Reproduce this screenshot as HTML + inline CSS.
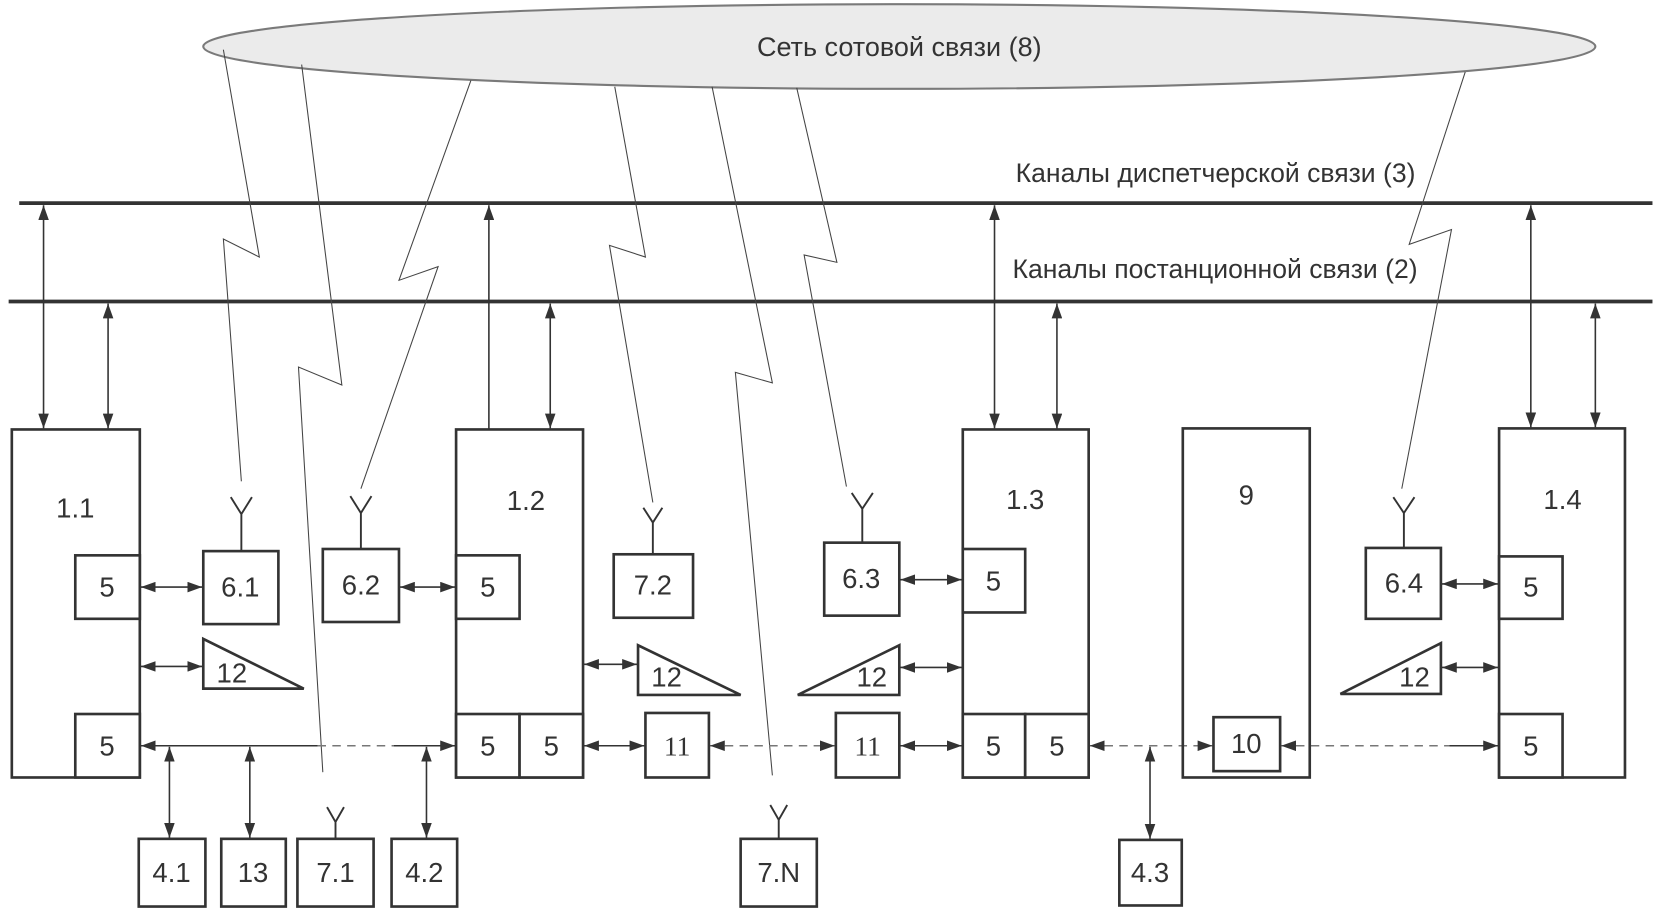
<!DOCTYPE html>
<html><head><meta charset="utf-8"><style>
html,body{margin:0;padding:0;background:#fff;}
svg{display:block;}
text{font-family:"Liberation Sans","DejaVu Sans",sans-serif;fill:#333;}
</style></head><body>
<svg width="1659" height="915" viewBox="0 0 1568 865" xmlns="http://www.w3.org/2000/svg">
<defs>
<marker id="a" viewBox="0 0 14 10" refX="14" refY="5" markerWidth="14" markerHeight="10" markerUnits="userSpaceOnUse" orient="auto-start-reverse"><path d="M0,0 L14,5 L0,10 z" fill="#333"/></marker>
</defs>
<rect width="1568" height="865" fill="#fff"/>
<ellipse cx="850" cy="44" rx="658" ry="40" fill="#ebebeb" stroke="#7a7a7a" stroke-width="2"/>
<text x="850" y="53" font-size="25.5" text-anchor="middle" textLength="269" lengthAdjust="spacingAndGlyphs">Сеть сотовой связи (8)</text>

<line x1="18" y1="192" x2="1562" y2="192" stroke="#333" stroke-width="3.5"/>
<line x1="8" y1="285" x2="1562" y2="285" stroke="#333" stroke-width="3.5"/>
<text x="960" y="172" font-size="25" textLength="378" lengthAdjust="spacingAndGlyphs">Каналы диспетчерской связи (3)</text>
<text x="957" y="263" font-size="25" textLength="383" lengthAdjust="spacingAndGlyphs">Каналы постанционной связи (2)</text>

<g fill="none" stroke="#444" stroke-width="1">
<polyline points="211,47 245,243 211,226 228,455"/>
<polyline points="285,61 323,364 282,347 305,730"/>
<polyline points="445,76 377,265 414,252 341,462"/>
<polyline points="581,82 610,243 576,232 617,475"/>
<polyline points="673,82 730,362 695,352 730,733"/>
<polyline points="753,83 791,248 760,241 800,460"/>
<polyline points="1385,68 1332,231 1372,217 1325,462"/>
</g>

<g fill="none" stroke="#333" stroke-width="1.5">
<line x1="41" y1="194" x2="41" y2="405" marker-start="url(#a)" marker-end="url(#a)"/>
<line x1="102" y1="287" x2="102" y2="405" marker-start="url(#a)" marker-end="url(#a)"/>
<line x1="462" y1="406" x2="462" y2="194" marker-end="url(#a)"/>
<line x1="520" y1="287" x2="520" y2="405" marker-start="url(#a)" marker-end="url(#a)"/>
<line x1="940" y1="194" x2="940" y2="405" marker-start="url(#a)" marker-end="url(#a)"/>
<line x1="999" y1="287" x2="999" y2="405" marker-start="url(#a)" marker-end="url(#a)"/>
<line x1="1447" y1="194" x2="1447" y2="404" marker-start="url(#a)" marker-end="url(#a)"/>
<line x1="1508" y1="287" x2="1508" y2="404" marker-start="url(#a)" marker-end="url(#a)"/>

<line x1="133" y1="555" x2="191" y2="555" marker-start="url(#a)" marker-end="url(#a)"/>
<line x1="378" y1="555" x2="430" y2="555" marker-start="url(#a)" marker-end="url(#a)"/>
<line x1="851" y1="548" x2="909" y2="548" marker-start="url(#a)" marker-end="url(#a)"/>
<line x1="1363" y1="552" x2="1416" y2="552" marker-start="url(#a)" marker-end="url(#a)"/>
<line x1="133" y1="630" x2="191" y2="630" marker-start="url(#a)" marker-end="url(#a)"/>
<line x1="552" y1="628" x2="602" y2="628" marker-start="url(#a)" marker-end="url(#a)"/>
<line x1="851" y1="631" x2="909" y2="631" marker-start="url(#a)" marker-end="url(#a)"/>
<line x1="1363" y1="631" x2="1416" y2="631" marker-start="url(#a)" marker-end="url(#a)"/>

<line x1="133" y1="705" x2="300" y2="705" marker-start="url(#a)"/>
<line x1="300" y1="705" x2="372" y2="705" stroke-dasharray="8,6" stroke="#777"/>
<line x1="372" y1="705" x2="430" y2="705" marker-end="url(#a)"/>
<line x1="160" y1="706" x2="160" y2="792" marker-start="url(#a)" marker-end="url(#a)"/>
<line x1="236" y1="706" x2="236" y2="792" marker-start="url(#a)" marker-end="url(#a)"/>
<line x1="403" y1="706" x2="403" y2="792" marker-start="url(#a)" marker-end="url(#a)"/>
<line x1="552" y1="705" x2="609" y2="705" marker-start="url(#a)" marker-end="url(#a)"/>
<line x1="671" y1="705" x2="789" y2="705" stroke-dasharray="8,6" stroke="#777" marker-start="url(#a)" marker-end="url(#a)"/>
<line x1="851" y1="705" x2="909" y2="705" marker-start="url(#a)" marker-end="url(#a)"/>
<line x1="1030" y1="705" x2="1146" y2="705" stroke-dasharray="8,6" stroke="#777" marker-start="url(#a)" marker-end="url(#a)"/>
<line x1="1087" y1="706" x2="1087" y2="793" marker-start="url(#a)" marker-end="url(#a)"/>
<line x1="1211" y1="705" x2="1370" y2="705" stroke-dasharray="8,6" stroke="#777" marker-start="url(#a)"/>
<line x1="1370" y1="705" x2="1416" y2="705" marker-end="url(#a)"/>
</g>

<g fill="#fff" stroke="#333" stroke-width="2.5">
<rect x="11" y="406" width="121" height="329"/>
<rect x="71" y="525" width="61" height="60"/>
<rect x="71" y="675" width="61" height="60"/>
<rect x="431" y="406" width="120" height="329"/>
<rect x="431" y="525" width="60" height="60"/>
<rect x="431" y="675" width="60" height="60"/>
<rect x="491" y="675" width="60" height="60"/>
<rect x="910" y="406" width="119" height="329"/>
<rect x="910" y="519" width="59" height="60"/>
<rect x="910" y="675" width="59" height="60"/>
<rect x="969" y="675" width="60" height="60"/>
<rect x="1118" y="405" width="120" height="330" fill="none"/>
<rect x="1147" y="678" width="63" height="51"/>
<rect x="1417" y="405" width="119" height="330"/>
<rect x="1417" y="526" width="60" height="59"/>
<rect x="1417" y="675" width="60" height="60"/>

<rect x="192" y="521" width="71" height="69"/>
<rect x="305" y="519" width="72" height="69"/>
<rect x="580" y="524" width="75" height="60"/>
<rect x="779" y="513" width="71" height="69"/>
<rect x="1291" y="518" width="71" height="67"/>

<rect x="610" y="674" width="60" height="61"/>
<rect x="790" y="674" width="60" height="61"/>

<rect x="131" y="793" width="63" height="64"/>
<rect x="209" y="793" width="61" height="64"/>
<rect x="281" y="793" width="72" height="64"/>
<rect x="370" y="793" width="62" height="64"/>
<rect x="700" y="793" width="72" height="64"/>
<rect x="1058" y="794" width="59" height="62"/>

<polygon points="192,604 192,651 287,651"/>
<polygon points="603,610 603,657 700,657"/>
<polygon points="850,610 850,657 754,657"/>
<polygon points="1362,608 1362,656 1267,656"/>
</g>

<g fill="none" stroke="#333" stroke-width="1.8">
<path d="M228,521 V486 M218,470 L228,486 L238,470"/>
<path d="M341,519 V485 M331,469 L341,485 L351,469"/>
<path d="M617,524 V494 M608,480 L617,494 L626,480"/>
<path d="M815,513 V481 M805,466 L815,481 L825,466"/>
<path d="M1327,518 V485 M1317,470 L1327,485 L1337,470"/>
<path d="M317,793 V777 M309,763 L317,777 L325,763"/>
<path d="M736,793 V775 M728,761 L736,775 L744,761"/>
</g>

<g font-size="26" text-anchor="middle">
<text x="71" y="489">1.1</text>
<text x="497" y="482">1.2</text>
<text x="969" y="481">1.3</text>
<text x="1178" y="477">9</text>
<text x="1477" y="481">1.4</text>
<text x="101" y="564">5</text>
<text x="101" y="714">5</text>
<text x="461" y="564">5</text>
<text x="461" y="714">5</text>
<text x="521" y="714">5</text>
<text x="939" y="558">5</text>
<text x="939" y="714">5</text>
<text x="999" y="714">5</text>
<text x="1447" y="564">5</text>
<text x="1447" y="714">5</text>
<text x="1178" y="712">10</text>
<text x="227" y="564">6.1</text>
<text x="341" y="562">6.2</text>
<text x="617" y="562">7.2</text>
<text x="814" y="556">6.3</text>
<text x="1327" y="560">6.4</text>
<text x="219" y="645">12</text>
<text x="630" y="649">12</text>
<text x="824" y="649">12</text>
<text x="1337" y="649">12</text>
<text x="162" y="834">4.1</text>
<text x="239" y="834">13</text>
<text x="317" y="834">7.1</text>
<text x="401" y="834">4.2</text>
<text x="736" y="834">7.N</text>
<text x="1087" y="834">4.3</text>
<text x="640" y="714" style="font-family:'Liberation Serif',serif">11</text>
<text x="820" y="714" style="font-family:'Liberation Serif',serif">11</text>
</g>
</svg>
</body></html>
